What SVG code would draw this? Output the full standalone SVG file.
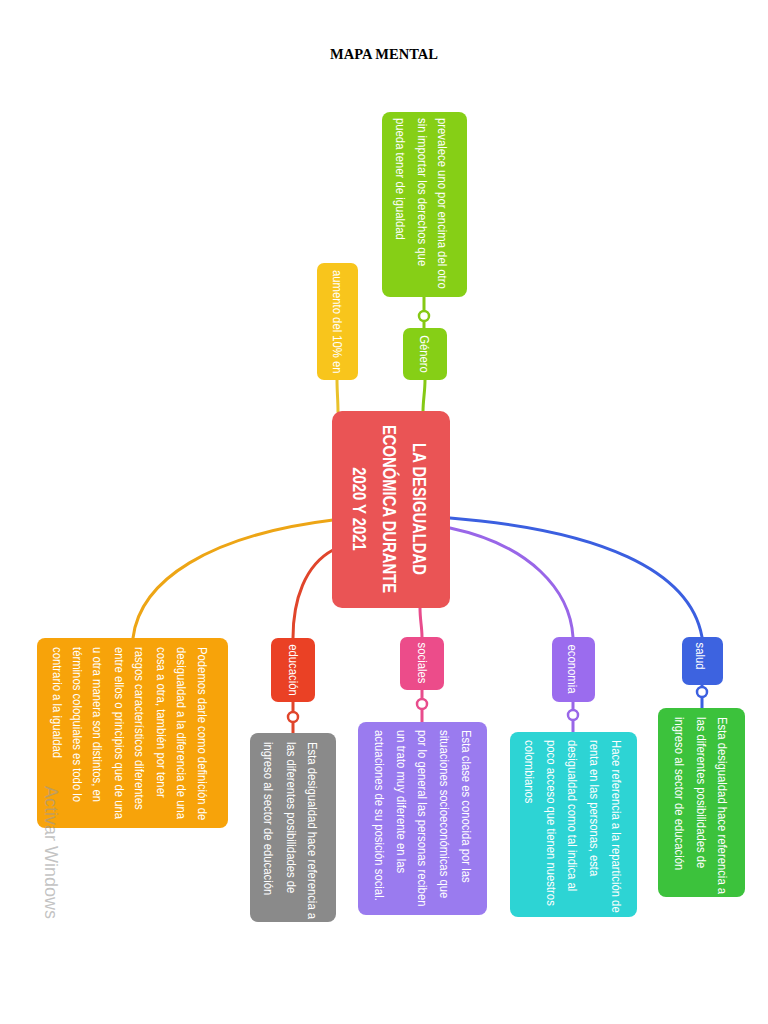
<svg xmlns="http://www.w3.org/2000/svg" width="768" height="1024" viewBox="0 0 768 1024">
<style>
.t{font-family:"Liberation Sans",Arial,sans-serif;font-size:12.3px;fill:#ffffff}
.c{font-family:"Liberation Sans",Arial,sans-serif;font-size:19px;font-weight:bold;fill:#ffffff;text-anchor:middle}
.m{text-anchor:middle}
.ln{fill:none;stroke-width:3;stroke-linecap:round}
.ring{fill:#ffffff;stroke-width:2.5}
</style>
<rect width="768" height="1024" fill="#ffffff"/>
<text x="384" y="59" font-family="Liberation Serif,Times New Roman,serif" font-size="14.5" font-weight="bold" text-anchor="middle" fill="#000">MAPA MENTAL</text>

<g id="connectors">
  <path class="ln" stroke="#e9c12a" d="M338,412 C338,400 337,392 337,380"/>
  <path class="ln" stroke="#85c915" d="M423,412 C423,400 425,392 425,380"/>
  <path class="ln" stroke="#85c915" d="M424,328 L424,297"/>
  <circle class="ring" stroke="#85c915" cx="424" cy="316" r="5"/>
  <path class="ln" stroke="#eda515" d="M333,520 C210,535 140,580 133,638"/>
  <path class="ln" stroke="#e0452b" d="M333,550 C305,565 293,600 293,638"/>
  <path class="ln" stroke="#e0452b" d="M293,702 L293,733"/>
  <circle class="ring" stroke="#e0452b" cx="293" cy="717" r="5"/>
  <path class="ln" stroke="#e84c8c" d="M420,608 C420,620 422,627 422,637"/>
  <path class="ln" stroke="#e84c8c" d="M422,690 L422,722"/>
  <circle class="ring" stroke="#e84c8c" cx="422" cy="704" r="5"/>
  <path class="ln" stroke="#9966e8" d="M450,528 C530,545 570,590 573,637"/>
  <path class="ln" stroke="#9966e8" d="M573,702 L573,732"/>
  <circle class="ring" stroke="#9966e8" cx="573" cy="715" r="5"/>
  <path class="ln" stroke="#3b5fe0" d="M450,518 C600,530 690,570 702,637"/>
  <path class="ln" stroke="#3b5fe0" d="M702,685 L702,708"/>
  <circle class="ring" stroke="#3b5fe0" cx="702" cy="692" r="5"/>
</g>

<g id="center">
  <rect x="332" y="411" width="118" height="197" rx="10" fill="#ea5455"/>
  <g class="c">
    <text transform="translate(413,509) rotate(90) scale(0.78,1)">LA DESIGUALDAD</text>
    <text transform="translate(383,509) rotate(90) scale(0.78,1)">ECONÓMICA DURANTE</text>
    <text transform="translate(353,509) rotate(90) scale(0.78,1)">2020 Y 2021</text>
  </g>
</g>

<g id="genero">
  <rect x="403" y="328" width="44" height="52" rx="7" fill="#86cf16"/>
  <text class="t m" transform="translate(420,354) rotate(90) scale(0.92,1)">Género</text>
</g>

<g id="genero-detalle">
  <rect x="382" y="112" width="85" height="185" rx="8" fill="#86cf16"/>
  <g class="t">
    <text transform="translate(438,118) rotate(90) scale(0.92,1)">prevalece uno por encima del otro</text>
    <text transform="translate(418,118) rotate(90) scale(0.92,1)">sin importar los derechos que</text>
    <text transform="translate(396,118) rotate(90) scale(0.92,1)">pueda tener de igualdad</text>
  </g>
</g>

<g id="aumento">
  <rect x="317" y="263" width="41" height="117" rx="7" fill="#f8c51c"/>
  <text class="t" transform="translate(333,270) rotate(90) scale(0.92,1)">aumento del 10% en</text>
</g>

<g id="definicion">
  <rect x="37" y="638" width="191" height="190" rx="8" fill="#f7a30a"/>
  <g class="t" fill="#fff6dc">
    <text transform="translate(198,647) rotate(90) scale(0.92,1)">Podemos darle como definición de</text>
    <text transform="translate(177,647) rotate(90) scale(0.92,1)">desigualdad a la diferencia de una</text>
    <text transform="translate(157,647) rotate(90) scale(0.92,1)">cosa a otra, también por tener</text>
    <text transform="translate(135,647) rotate(90) scale(0.92,1)">rasgos característicos diferentes</text>
    <text transform="translate(115,647) rotate(90) scale(0.92,1)">entre ellos o principios que de una</text>
    <text transform="translate(93,647) rotate(90) scale(0.92,1)">u otra manera son distintos, en</text>
    <text transform="translate(73,647) rotate(90) scale(0.92,1)">términos coloquiales es todo lo</text>
    <text transform="translate(53,647) rotate(90) scale(0.92,1)">contrario a la igualdad</text>
  </g>
</g>

<g id="educacion">
  <rect x="271" y="638" width="44" height="64" rx="7" fill="#ea4125"/>
  <text class="t m" transform="translate(289,670) rotate(90) scale(0.92,1)">educación</text>
</g>
<g id="educacion-detalle">
  <rect x="250" y="733" width="86" height="189" rx="8" fill="#8a8a8a"/>
  <g class="t">
    <text transform="translate(308,742) rotate(90) scale(0.92,1)">Esta desigualdad hace referencia a</text>
    <text transform="translate(287,742) rotate(90) scale(0.92,1)">las diferentes posibilidades de</text>
    <text transform="translate(264,742) rotate(90) scale(0.92,1)">ingreso al sector de educación</text>
  </g>
</g>

<g id="sociales">
  <rect x="400" y="637" width="44" height="53" rx="7" fill="#ec4c8a"/>
  <text class="t m" transform="translate(418,663) rotate(90) scale(0.92,1)">sociales</text>
</g>
<g id="sociales-detalle">
  <rect x="358" y="722" width="129" height="193" rx="8" fill="#9a7bef"/>
  <g class="t">
    <text transform="translate(462,730) rotate(90) scale(0.92,1)">Esta clase es conocida por las</text>
    <text transform="translate(440,730) rotate(90) scale(0.92,1)">situaciones socioeconómicas que</text>
    <text transform="translate(418,730) rotate(90) scale(0.92,1)">por lo general las personas reciben</text>
    <text transform="translate(397,730) rotate(90) scale(0.92,1)">un trato muy diferente en las</text>
    <text transform="translate(375,730) rotate(90) scale(0.92,1)">actuaciones de su posición social.</text>
  </g>
</g>

<g id="economia">
  <rect x="552" y="637" width="43" height="65" rx="7" fill="#9b6cee"/>
  <text class="t m" transform="translate(568,669) rotate(90) scale(0.92,1)">economia</text>
</g>
<g id="economia-detalle">
  <rect x="510" y="732" width="127" height="185" rx="8" fill="#2dd4d4"/>
  <g class="t">
    <text transform="translate(612,740) rotate(90) scale(0.92,1)">Hace referencia a la repartición de</text>
    <text transform="translate(590,740) rotate(90) scale(0.92,1)">renta en las personas, esta</text>
    <text transform="translate(568,740) rotate(90) scale(0.92,1)">desigualdad como tal indica al</text>
    <text transform="translate(547,740) rotate(90) scale(0.92,1)">poco acceso que tienen nuestros</text>
    <text transform="translate(525,740) rotate(90) scale(0.92,1)">colombianos</text>
  </g>
</g>

<g id="salud">
  <rect x="682" y="637" width="41" height="48" rx="7" fill="#3d63e0"/>
  <text class="t m" transform="translate(696,656) rotate(90) scale(0.92,1)">salud</text>
</g>
<g id="salud-detalle">
  <rect x="658" y="708" width="87" height="189" rx="8" fill="#3cc23c"/>
  <g class="t">
    <text transform="translate(718,717) rotate(90) scale(0.92,1)">Esta desigualdad hace referencia a</text>
    <text transform="translate(697,717) rotate(90) scale(0.92,1)">las diferentes posibilidades de</text>
    <text transform="translate(675,717) rotate(90) scale(0.92,1)">ingreso al sector de educación</text>
  </g>
</g>

<text transform="translate(45,786) rotate(90)" font-family="Liberation Sans,Arial,sans-serif" font-size="18" fill="#9a9a9a" fill-opacity="0.6">Activar Windows</text>
</svg>
